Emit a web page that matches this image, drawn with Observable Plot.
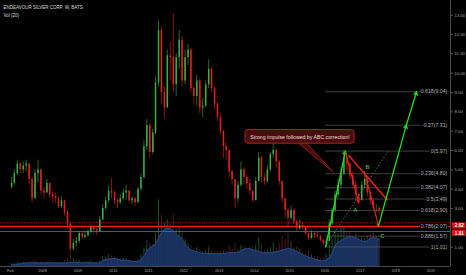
<!DOCTYPE html>
<html>
<head>
<meta charset="utf-8">
<script src="https://cdn.jsdelivr.net/npm/d3@7"></script>
<script src="https://cdn.jsdelivr.net/npm/@observablehq/plot@0.6"></script>
<style>
html, body { margin: 0; padding: 0; background: #000; }
#chart { position: relative; width: 466px; height: 275px; overflow: hidden; background: #000; }
#chart svg { position: absolute; left: 0; top: 0; }
</style>
</head>
<body>
<div id="chart"></div>
<script>
// ---------------- data ----------------
const chartTitle = "ENDEAVOUR SILVER CORP, W, BATS";
const volumeTitle = "Vol (20)";
const firstYear = 2007, firstMonthIndex = 1; // February 2007, one candle per month
const firstOpen = 4.1;
const closes = [
  4.3,4.8,5.3,5.0,5.2,5.3,4.5,3.5,4.8,5.0,
  3.9,3.8,4.3,3.7,3.6,3.5,3.1,3.4,2.8,2.2,
  0.9,1.2,1.3,1.7,1.5,1.6,1.8,2.0,1.9,1.8,
  2.4,3.0,3.4,3.9,3.8,3.4,3.3,3.5,3.8,3.9,
  3.4,3.5,3.3,4.0,4.6,6.2,7.3,5.9,6.9,9.5,
  12.2,9.0,8.2,10.9,10.8,9.4,10.8,11.7,9.6,10.8,
  11.2,9.2,8.8,9.6,8.2,8.3,9.4,10.2,9.2,8.4,
  7.7,7.0,6.2,6.0,4.9,4.5,3.5,4.2,5.0,4.6,
  4.3,3.9,3.4,4.4,5.6,4.6,4.4,5.0,5.8,6.0,
  5.4,4.4,3.5,2.9,2.5,2.9,2.3,1.95,2.1,2.05,
  1.7,1.45,1.7,1.6,1.55,1.35,1.2,1.3,2.2,2.9,
  3.7,4.2,4.8,5.6,5.3,4.7,4.2,3.7,3.4,4.2,
  4.5,3.8,3.4,3.0,3.0,2.9
];
const highs = [
  4.6,5.0,5.5,5.4,5.4,5.5,5.3,4.6,5.0,5.5,
  5.0,4.1,4.5,4.3,3.9,3.8,3.6,3.6,3.4,2.9,
  2.3,1.4,1.5,1.8,1.8,1.8,1.9,2.1,2.1,2.0,
  2.6,3.2,3.6,4.2,4.55,3.9,3.5,3.7,4.0,4.2,
  3.9,3.6,3.6,4.1,4.8,6.5,7.6,7.4,7.1,9.8,
  12.7,12.4,9.3,11.2,11.6,13.1,11.0,12.2,11.9,11.2,
  11.5,11.3,9.3,9.9,9.7,8.7,9.6,10.7,10.3,9.3,
  8.5,7.9,7.0,6.4,6.0,5.0,4.5,4.4,5.4,5.1,
  4.7,4.5,3.9,4.6,5.9,5.7,4.8,5.2,5.9,6.4,
  6.1,5.5,4.4,3.5,3.0,3.1,3.0,2.4,2.4,2.3,
  2.1,1.75,1.85,1.8,1.8,1.6,1.4,1.45,2.4,3.0,
  3.9,4.5,5.1,5.97,5.8,5.4,4.9,4.4,3.8,4.4,
  4.9,4.6,3.9,3.5,3.2,3.1
];
const lows = [
  4.0,4.2,4.7,4.8,4.8,4.9,4.2,3.3,3.5,4.3,
  3.7,3.5,3.8,3.5,3.3,3.3,3.0,3.0,2.6,1.9,
  0.74,0.8,1.0,1.2,1.4,1.4,1.5,1.7,1.7,1.6,
  1.8,2.4,2.9,3.3,3.5,3.2,3.0,3.2,3.4,3.4,
  3.3,3.2,3.1,3.3,3.9,4.5,6.0,5.6,5.8,6.8,
  9.3,8.4,7.6,8.2,9.6,9.0,8.8,10.2,9.3,9.4,
  10.4,9.0,8.4,8.3,7.9,7.7,8.2,9.2,9.0,8.1,
  7.5,6.8,5.6,5.5,4.6,4.2,3.0,3.3,4.1,4.2,
  4.0,3.7,3.3,3.4,4.4,4.3,4.2,4.3,4.9,5.6,
  5.1,4.2,3.3,2.5,2.0,2.4,2.2,1.8,1.9,1.9,
  1.6,1.35,1.4,1.45,1.45,1.25,1.1,1.01,1.3,2.1,
  2.8,3.5,4.0,4.7,4.9,4.5,4.0,3.4,3.2,3.4,
  4.0,3.6,3.2,2.9,2.8,2.7
];
// volume (millions of shares, weekly average per month) and its 20-period average
const volumes = [
  0.6,0.7,0.9,0.8,1.0,0.9,1.1,1.3,1.2,1.0,
  1.1,0.9,1.0,1.2,0.9,0.8,1.0,0.9,1.3,1.8,
  2.6,1.6,1.2,1.4,1.0,1.1,1.2,1.3,1.0,0.9,
  1.4,2.2,2.0,2.6,2.4,2.1,1.6,1.5,1.9,1.8,
  1.4,1.2,1.3,1.5,2.6,4.2,5.8,5.2,5.0,7.6,
  15.0,11.5,9.8,10.5,9.6,11.8,8.4,8.8,7.5,6.0,
  5.2,4.6,4.1,4.3,3.8,3.4,3.6,4.4,3.5,3.2,
  3.1,3.4,3.6,3.3,4.6,3.9,5.2,3.8,4.8,4.6,
  4.2,4.5,4.4,4.8,6.6,5.0,3.6,3.9,4.3,5.4,
  4.1,5.2,6.8,6.1,7.4,5.6,4.2,4.4,3.8,3.1,
  2.9,3.4,2.6,2.2,2.1,1.9,2.0,2.6,4.8,6.2,
  8.2,7.4,8.6,9.0,7.6,7.9,6.8,7.6,6.2,6.6,
  6.4,6.9,7.2,7.6,6.8,6.4
];
const volumeMA = [
  0.4,0.4,0.5,0.6,0.7,0.8,0.8,0.8,0.8,0.8,
  0.8,0.8,0.8,0.8,0.8,0.8,0.8,0.8,0.8,0.8,
  0.9,0.9,0.9,0.9,0.8,0.8,0.8,0.8,0.8,0.8,
  0.8,1.3,1.5,1.7,1.7,1.8,1.7,1.5,1.4,1.4,
  1.3,1.2,1.1,1.1,1.6,2.4,3.4,4.2,4.6,5.1,
  6.4,7.6,8.3,8.6,8.5,8.0,7.3,6.8,6.3,5.1,
  4.3,3.8,3.5,3.3,3.1,3.0,2.9,2.9,2.9,2.9,
  2.9,2.9,2.9,3.0,3.1,3.1,3.1,3.2,3.5,3.9,
  4.0,4.0,3.8,3.6,3.4,3.2,3.1,3.1,3.1,3.2,
  3.3,3.5,3.7,3.9,4.0,4.0,3.7,3.4,3.0,2.7,
  2.4,2.1,1.9,1.7,1.5,1.3,1.3,1.5,2.1,3.0,
  4.7,5.4,5.8,6.2,6.5,6.7,6.6,6.5,6.1,5.8,
  5.6,5.8,6.3,6.5,6.4,6.0
];

// axes (the 2.00 label is hidden behind the red price badge in the reference)
const xTickDates = ["2007-02-01","2008-01-01","2009-01-01","2010-01-01","2011-01-01","2012-01-01","2013-01-01","2014-01-01","2015-01-01","2016-01-01","2017-01-01","2018-01-01","2019-01-01"];
const xTickLabels = ["Feb","2008","2009","2010","2011","2012","2013","2014","2015","2016","2017","2018","2019"];
const yTicks = [1,3,4,5,6,7,8,9,10,11,12,13];
const xDomainDates = ["2006-10-23","2019-07-23"];
const priceDomain = [0, 13.76];
const volumeDomain = [0, 60];

// Fibonacci retracement (drawn from the Jan 2016 low)
const fibRatios = ["-0.618","-0.27","0","0.236","0.382","0.5","0.618","0.786","0.886","1"];
const fibPrices = [9.04,7.31,5.97,4.80,4.07,3.49,2.90,2.07,1.57,1.01];
const fibStartDate = "2016-01-08";
const fibLabelDate = "2019-06-20";

// red horizontal support levels
const dottedLevels = [2.26];
const mainLevels = [2.07];
const lowerLevels = [1.81];
const badgeLabels = ["2.62","1.81"];
const badgePrices = [2.10, 1.72];
const badgeDates = ["2019-08-12","2020-01-01"];

// Elliott wave drawing
const impulseDates = ["2016-01-08","2016-07-30"];
const impulsePrices = [1.01, 5.97];
const trendDates = ["2016-09-01","2017-10-10"];
const trendPrices = [5.75, 3.43];
const waveNames = ["top","A","B","C"];
const waveDates = ["2016-08-01","2016-12-14","2017-02-14","2017-07-08"];
const wavePrices = [5.9, 3.3, 4.9, 2.1];
const projDates = ["2017-07-08","2018-04-22","2018-08-06"];
const projPrices = [2.1, 7.31, 9.04];
const channelDates = ["2016-01-08","2017-10-20"];
const channelPrices = [1.05, 6.0];
const waveLabels = ["A","B","C"];
const waveLabelDates = ["2016-11-13","2017-03-16","2017-08-18"];
const waveLabelPrices = [2.91, 5.14, 1.57];

// callout
const calloutText = "Strong impulse followed by ABC correction!";
const calloutDates = ["2013-10-01","2016-11-03"];
const calloutPrices = [6.35, 7.06];
const pointerDates = ["2015-04-01","2016-03-28","2015-06-25"];
const pointerPrices = [6.38, 4.88, 6.38];

// ---------------- build ----------------
const D = s => new Date(s);
const candles = closes.map((c, i) => ({
  date: new Date(Date.UTC(firstYear, firstMonthIndex + i, 15)),
  open: i ? closes[i - 1] : firstOpen,
  close: c, high: highs[i], low: lows[i],
  vol: volumes[i], volMA: volumeMA[i]
}));
const up = candles.filter(d => d.close >= d.open);
const down = candles.filter(d => d.close < d.open);

const W = 466, H = 275;
const common = {
  width: W, height: H, marginLeft: 0, marginRight: 16, marginTop: 0, marginBottom: 9
};
const xScale = {type: "utc", domain: xDomainDates.map(D)};
const RED = "#e8201c", GREEN = "#3cb043", ARROWGREEN = "#22e01e";

// volume pane (underneath)
const volPlot = Plot.plot({
  ...common,
  style: {background: "#000"},
  x: {...xScale, axis: null},
  y: {domain: volumeDomain, axis: null},
  marks: [
    Plot.ruleX(up, {x: "date", y1: 0, y2: "vol", stroke: "#1f5a26", strokeWidth: 0.9}),
    Plot.ruleX(down, {x: "date", y1: 0, y2: "vol", stroke: "#5c1d1d", strokeWidth: 0.9}),
    Plot.areaY(candles, {x: "date", y: "volMA", fill: "#1b3366", fillOpacity: 0.92, curve: "monotone-x"}),
    Plot.lineY(candles, {x: "date", y: "volMA", stroke: "#2c4f8f", strokeWidth: 0.8, curve: "monotone-x"})
  ]
});

const fibRows = fibPrices.map((p, i) => ({p, label: `${fibRatios[i]}(${p.toFixed(2)})`, x1: D(fibStartDate), x2: D(fibLabelDate)}));
const xLabelMap = new Map(xTickDates.map((d, i) => [+D(d), xTickLabels[i]]));
const pxPerUnit = (H - 9) / (priceDomain[1] - priceDomain[0]);
const badgeHalf = 3.1 / pxPerUnit;
const badges = badgeLabels.map((t, i) => ({t, y: badgePrices[i], x1: D(badgeDates[0]), x2: D(badgeDates[1])}));
const waves = waveNames.map((n, i) => ({n, x: D(waveDates[i]), y: wavePrices[i]}));
const seg = (dates, prices) => dates.slice(1).map((d, i) => ({x1: D(dates[i]), y1: prices[i], x2: D(d), y2: prices[i + 1]}));

const pricePlot = Plot.plot({
  ...common,
  style: {background: "transparent", color: "#a0a0a0", fontFamily: "'Liberation Sans', Arial, sans-serif"},
  x: xScale,
  y: {domain: priceDomain},
  marks: [
    // frame lines
    Plot.ruleY([0], {stroke: "#4a4a4a", strokeWidth: 1}),
    Plot.ruleX([D(xDomainDates[1])], {stroke: "#4a4a4a", strokeWidth: 1}),
    // fibonacci levels
    Plot.ruleY(fibRows, {y: "p", x1: "x1", x2: "x2", stroke: "#5a5a5a", strokeWidth: 0.7}),
    // red support levels
    Plot.ruleY(dottedLevels, {stroke: RED, strokeWidth: 0.8, strokeDasharray: "1.2,1.2"}),
    Plot.ruleY(mainLevels, {stroke: RED, strokeWidth: 1.6}),
    Plot.ruleY(lowerLevels, {stroke: RED, strokeWidth: 1.2}),
    // candles
    Plot.ruleX(up, {x: "date", y1: "low", y2: "high", stroke: GREEN, strokeWidth: 0.6}),
    Plot.ruleX(down, {x: "date", y1: "low", y2: "high", stroke: RED, strokeWidth: 0.6}),
    Plot.ruleX(up, {x: "date", y1: "open", y2: "close", stroke: GREEN, strokeWidth: 1.5}),
    Plot.ruleX(down, {x: "date", y1: "open", y2: "close", stroke: RED, strokeWidth: 1.5}),
    // channel (dotted)
    Plot.link(seg(channelDates, channelPrices), {x1: "x1", y1: "y1", x2: "x2", y2: "y2", stroke: "#8a8a8a", strokeWidth: 0.8, strokeDasharray: "1.2,2"}),
    // impulse
    Plot.arrow(seg(impulseDates, impulsePrices), {x1: "x1", y1: "y1", x2: "x2", y2: "y2", stroke: ARROWGREEN, strokeWidth: 1.3, headLength: 4}),
    // downtrend line
    Plot.link(seg(trendDates, trendPrices), {x1: "x1", y1: "y1", x2: "x2", y2: "y2", stroke: RED, strokeWidth: 1.6}),
    // ABC correction
    Plot.arrow([{x1: waves[0].x, y1: waves[0].y, x2: waves[1].x, y2: waves[1].y},
                {x1: waves[2].x, y1: waves[2].y, x2: waves[3].x, y2: waves[3].y}],
      {x1: "x1", y1: "y1", x2: "x2", y2: "y2", stroke: RED, strokeWidth: 1.1, headLength: 3}),
    // projection
    Plot.arrow(seg(projDates, projPrices), {x1: "x1", y1: "y1", x2: "x2", y2: "y2", stroke: ARROWGREEN, strokeWidth: 1.3, headLength: 4}),
    // fib labels
    Plot.text(fibRows, {x: "x2", y: "p", text: "label", textAnchor: "end", fontSize: 5.2, fill: "#b4b4b4", stroke: "#000", strokeWidth: 2.5}),
    // wave labels
    Plot.text(waveLabels, {x: (d, i) => D(waveLabelDates[i]), y: (d, i) => waveLabelPrices[i], text: d => d, fill: GREEN, fontSize: 5.5, fontWeight: "bold"}),
    // callout
    Plot.line(pointerDates.map((d, i) => ({x: D(d), y: pointerPrices[i]})), {x: "x", y: "y", stroke: "#a52222", strokeWidth: 0.8, fill: "#4a0c0c"}),
    Plot.rect([{x1: D(calloutDates[0]), x2: D(calloutDates[1]), y1: calloutPrices[0], y2: calloutPrices[1]}],
      {x1: "x1", x2: "x2", y1: "y1", y2: "y2", fill: "#4a0c0c", stroke: "#a52222", strokeWidth: 1, rx: 3}),
    Plot.text([calloutText], {x: () => new Date((+D(calloutDates[0]) + +D(calloutDates[1])) / 2), y: () => (calloutPrices[0] + calloutPrices[1]) / 2, text: d => d, fill: "#f3dede", fontSize: 5.2}),
    // axes
    Plot.axisX({ticks: xTickDates.map(D), tickFormat: d => xLabelMap.get(+d), tickSize: 0, tickPadding: 3, fontSize: 3.8, fill: "#a8a8a8"}),
    Plot.axisY({anchor: "right", ticks: yTicks, tickFormat: d => d.toFixed(2), tickSize: 2, tickPadding: 2, fontSize: 4.3, fill: "#a8a8a8", stroke: "#555"}),
    // red price badges
    Plot.rect(badges, {x1: "x1", x2: "x2", y1: d => d.y - badgeHalf, y2: d => d.y + badgeHalf, fill: "#e3100f"}),
    Plot.text(badges, {x: d => new Date((+d.x1 + +d.x2) / 2), y: "y", text: "t", fill: "#fff", fontSize: 4.6, fontWeight: "bold"}),
    // titles
    Plot.text([chartTitle], {frameAnchor: "top-left", dx: 3, dy: 6.7, textAnchor: "start", lineAnchor: "middle", fontSize: 4.5, fill: "#dcdcdc"}),
    Plot.text([volumeTitle], {frameAnchor: "top-left", dx: 3, dy: 14.7, textAnchor: "start", lineAnchor: "middle", fontSize: 4.5, fill: "#dcdcdc"})
  ]
});

const host = document.getElementById("chart");
host.append(volPlot, pricePlot);
</script>
</body>
</html>
